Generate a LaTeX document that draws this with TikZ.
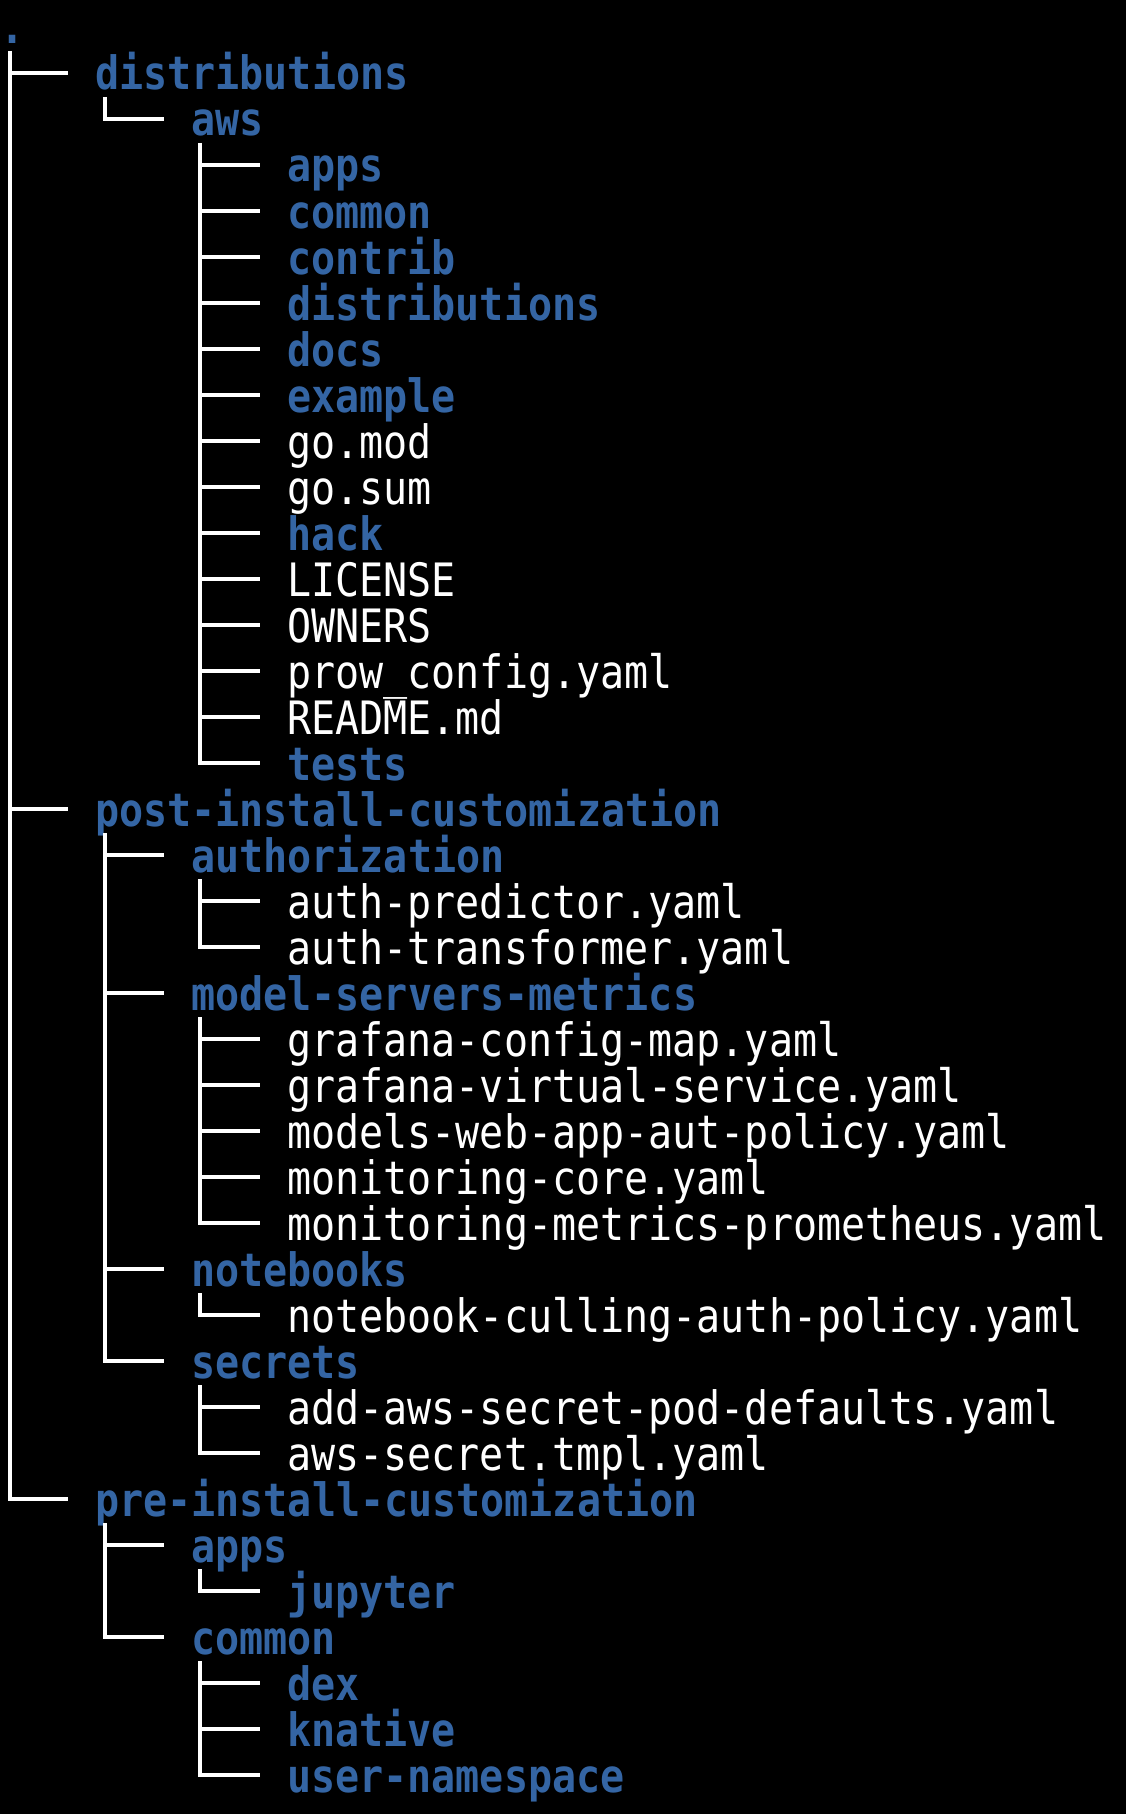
\documentclass[tikz,border=0pt]{standalone}
\usepackage{fontspec}
\newfontfamily\mono[FakeStretch=0.87]{DejaVu Sans Mono}
\definecolor{tblue}{HTML}{3465A4}
\begin{document}
\begin{tikzpicture}[x=1pt,y=1pt,
  dir/.style={text=tblue,font=\mono\fontsize{46}{46}\selectfont\bfseries,inner sep=0pt,anchor=base west},
  file/.style={text=white,font=\mono\fontsize{46}{46}\selectfont,inner sep=0pt,anchor=base west},
  conn/.style={draw=white,line width=3.5pt}]
\fill[black] (0,0) rectangle (1126,-1814);
\useasboundingbox (0,0) rectangle (1126,-1814);
\node[dir] (r0) at (0,-44) {.};
\foreach \r/\l/\t/\s in {1/0/distributions/dir,2/1/aws/dir,
 3/2/apps/dir,4/2/common/dir,5/2/contrib/dir,6/2/distributions/dir,7/2/docs/dir,8/2/example/dir,
 9/2/go.mod/file,10/2/go.sum/file,11/2/hack/dir,12/2/LICENSE/file,13/2/OWNERS/file,
 14/2/prow{\char95}config.yaml/file,15/2/README.md/file,16/2/tests/dir,
 17/0/post-install-customization/dir,18/1/authorization/dir,19/2/auth-predictor.yaml/file,
 20/2/auth-transformer.yaml/file,21/1/model-servers-metrics/dir,22/2/grafana-config-map.yaml/file,
 23/2/grafana-virtual-service.yaml/file,24/2/models-web-app-aut-policy.yaml/file,
 25/2/monitoring-core.yaml/file,26/2/monitoring-metrics-prometheus.yaml/file,
 27/1/notebooks/dir,28/2/notebook-culling-auth-policy.yaml/file,29/1/secrets/dir,
 30/2/add-aws-secret-pod-defaults.yaml/file,31/2/aws-secret.tmpl.yaml/file,
 32/0/pre-install-customization/dir,33/1/apps/dir,34/2/jupyter/dir,35/1/common/dir,
 36/2/dex/dir,37/2/knative/dir,38/2/user-namespace/dir}{
  \coordinate (h\r) at ({68+\l*96},{-73-(\r-1)*46});
  \draw[conn] ({10+\l*95},{-73-(\r-1)*46}) -- (h\r);
  \node[\s] (r\r) at ({95+\l*96},{-73-(\r-1)*46-17}) {\t};
}
% vertical connectors: level/parent row/last child row
\foreach \l/\p/\c in {0/0/32,1/1/2,2/2/16,1/17/29,2/18/20,2/21/26,2/27/28,2/29/31,1/32/35,2/33/34,2/35/38}{
  \draw[conn] ({10+\l*95},{-73-(\p-1)*46-24}) -- ({10+\l*95},{-73-(\c-1)*46-1.75});
}
\end{tikzpicture}
\end{document}
